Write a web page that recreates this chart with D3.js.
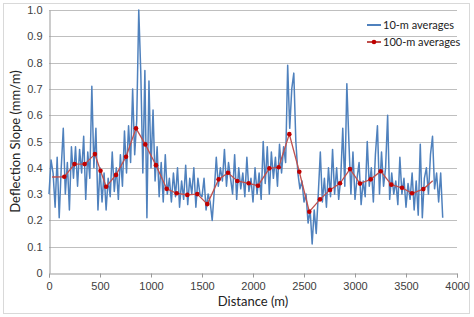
<!DOCTYPE html>
<html>
<head>
<meta charset="utf-8">
<script src="https://cdn.jsdelivr.net/npm/d3@7"></script>
<style>
  body { margin: 0; background: #fff; }
  svg { font-family: Lato, "Open Sans", sans-serif; }
  .tick text { fill: #404040; font-size: 11px; }
</style>
</head>
<body>
<script>

// 1) DATA

// 10-m averages, every 20 m starting at 0 m
let step10 = 20;
let avg10 = [
  0.30, 0.43, 0.38, 0.25, 0.44,  0.21, 0.40, 0.55, 0.30, 0.42,
  0.24, 0.48, 0.36, 0.48, 0.33,  0.47, 0.38, 0.52, 0.28, 0.46,
  0.36, 0.71, 0.40, 0.55, 0.24,  0.40, 0.27, 0.38, 0.24, 0.36,
  0.29, 0.46, 0.31, 0.40, 0.28,  0.45, 0.33, 0.54, 0.38, 0.56,
  0.42, 0.70, 0.45, 0.58, 1.00,  0.76, 0.38, 0.77, 0.21, 0.73,
  0.40, 0.62, 0.35, 0.48, 0.29,  0.42, 0.27, 0.45, 0.30, 0.36,
  0.27, 0.38, 0.29, 0.40, 0.25,  0.35, 0.28, 0.41, 0.26, 0.36,
  0.30, 0.40, 0.25, 0.36, 0.30,  0.29, 0.36, 0.24, 0.30, 0.27,
  0.20, 0.31, 0.44, 0.33, 0.40,  0.35, 0.47, 0.33, 0.42, 0.36,
  0.30, 0.45, 0.28, 0.40, 0.32,  0.38, 0.29, 0.44, 0.31, 0.36,
  0.27, 0.40, 0.30, 0.38, 0.28,  0.50, 0.34, 0.48, 0.30, 0.46,
  0.36, 0.44, 0.33, 0.49, 0.38,  0.48, 0.42, 0.79, 0.55, 0.70,
  0.76, 0.50, 0.38, 0.32, 0.35,  0.27, 0.30, 0.19, 0.24, 0.11,
  0.24, 0.15, 0.30, 0.46, 0.27,  0.36, 0.25, 0.40, 0.29, 0.47,
  0.30, 0.40, 0.28, 0.36, 0.55,  0.33, 0.72, 0.50, 0.30, 0.46,
  0.28, 0.36, 0.42, 0.26, 0.35,  0.29, 0.50, 0.33, 0.40, 0.27,
  0.45, 0.56, 0.30, 0.46, 0.33,  0.40, 0.60, 0.28, 0.38, 0.30,
  0.35, 0.26, 0.44, 0.30, 0.36,  0.25, 0.34, 0.28, 0.38, 0.24,
  0.35, 0.22, 0.49, 0.21, 0.36,  0.40, 0.30, 0.45, 0.52, 0.32,
  0.38, 0.27, 0.38, 0.21
];

// 100-m averages (distance, slope)
let dist100 = [30, 150, 250, 350, 450, 505, 560, 657, 755, 853, 944, 1049, 1154, 1252,
  1356, 1454, 1552, 1663, 1755, 1846, 1958, 2049, 2160, 2252, 2356, 2454, 2552, 2657,
  2755, 2853, 2951, 3049, 3154, 3252, 3356, 3461, 3559, 3670, 3762];
let avg100 = [0.365, 0.366, 0.414, 0.414, 0.452, 0.389, 0.328, 0.373, 0.442, 0.55, 0.489,
  0.41, 0.32, 0.303, 0.297, 0.30, 0.262, 0.356, 0.381, 0.35, 0.341, 0.332, 0.398, 0.402,
  0.528, 0.385, 0.233, 0.28, 0.316, 0.341, 0.395, 0.34, 0.356, 0.387, 0.336, 0.324,
  0.303, 0.319, 0.351];

let xTicks = [0, 500, 1000, 1500, 2000, 2500, 3000, 3500, 4000];
let yTicks = [0, 0.1, 0.2, 0.3, 0.4, 0.5, 0.6, 0.7, 0.8, 0.9, 1.0];
let seriesNames = ["10-m averages", "100-m averages"];


// 2) SVG + FRAME
let width = 474, height = 317;
let margin = {top: 10, right: 17, bottom: 44, left: 49};

let svg = d3.select("body").append("svg")
    .attr("width", width)
    .attr("height", height);

svg.append("rect")
    .attr("x", 3.5).attr("y", 3.5)
    .attr("width", 466).attr("height", 310)
    .attr("fill", "#fff")
    .attr("stroke", "#d9d9d9");

let x = d3.scaleLinear().domain([0, 4000]).range([margin.left, width - margin.right]);
let y = d3.scaleLinear().domain([0, 1]).range([height - margin.bottom, margin.top]);


// 3) GRID + AXES
svg.append("g")
    .selectAll("line")
    .data(yTicks.slice(1))
    .enter()
    .append("line")
    .attr("x1", x(0)).attr("x2", x(4000))
    .attr("y1", d => Math.round(y(d)) + 0.5)
    .attr("y2", d => Math.round(y(d)) + 0.5)
    .attr("stroke", "#bfbfbf");

svg.append("g")
    .attr("transform", `translate(0,${Math.round(y(0)) + 0.5})`)
    .call(d3.axisBottom(x).tickValues(xTicks).tickSize(4).tickPadding(5)
      .tickFormat(d3.format("d")));

svg.append("g")
    .attr("transform", `translate(${Math.round(x(0)) + 0.5},0)`)
    .call(d3.axisLeft(y).tickValues(yTicks).tickSize(0).tickPadding(7)
      .tickFormat(d => d === 0 ? "0" : d3.format(".1f")(d)));

svg.selectAll(".domain, .tick line").attr("stroke", "#999");


// 4) LINES
let line = d3.line().x(d => x(d[0])).y(d => y(d[1]));

svg.append("path")
    .datum(avg10.map((v, i) => [i * step10, v]))
    .attr("d", line)
    .attr("fill", "none")
    .attr("stroke", "#4f81bd")
    .attr("stroke-width", 1.5)
    .attr("stroke-linejoin", "round");

let pts100 = dist100.map((d, i) => [d, avg100[i]]);

svg.append("path")
    .datum(pts100)
    .attr("d", line)
    .attr("fill", "none")
    .attr("stroke", "#c0504d")
    .attr("stroke-width", 1.3);

// first and last points have no marker in the original
svg.selectAll("circle.m100")
    .data(pts100.slice(1, -1))
    .enter()
    .append("circle")
    .attr("class", "m100")
    .attr("r", 2.3)
    .attr("cx", d => x(d[0]))
    .attr("cy", d => y(d[1]))
    .attr("fill", "#c00000");


// 5) TITLES
svg.append("text")
    .attr("x", (x(0) + x(4000)) / 2)
    .attr("y", 306)
    .attr("text-anchor", "middle")
    .attr("font-size", 13)
    .attr("fill", "#222")
    .text("Distance (m)");

svg.append("text")
    .attr("transform", `translate(20,${(y(0) + y(1)) / 2}) rotate(-90)`)
    .attr("text-anchor", "middle")
    .attr("font-size", 13)
    .attr("fill", "#222")
    .text("Deflection Slope (mm/m)");


// 6) LEGEND
let legend = svg.append("g").attr("transform", "translate(367,25)");

legend.selectAll("line")
    .data(seriesNames)
    .enter()
    .append("line")
    .attr("x1", 0).attr("x2", 14)
    .attr("y1", (d, i) => i * 17).attr("y2", (d, i) => i * 17)
    .attr("stroke", (d, i) => i === 0 ? "#4f81bd" : "#c0504d")
    .attr("stroke-width", 2);

legend.append("circle")
    .attr("cx", 7).attr("cy", 17).attr("r", 2.3)
    .attr("fill", "#c00000");

legend.selectAll("text")
    .data(seriesNames)
    .enter()
    .append("text")
    .attr("x", 16)
    .attr("y", (d, i) => i * 17 + 4)
    .attr("font-size", 11)
    .attr("fill", "#222")
    .text(d => d);

</script>
</body>
</html>
